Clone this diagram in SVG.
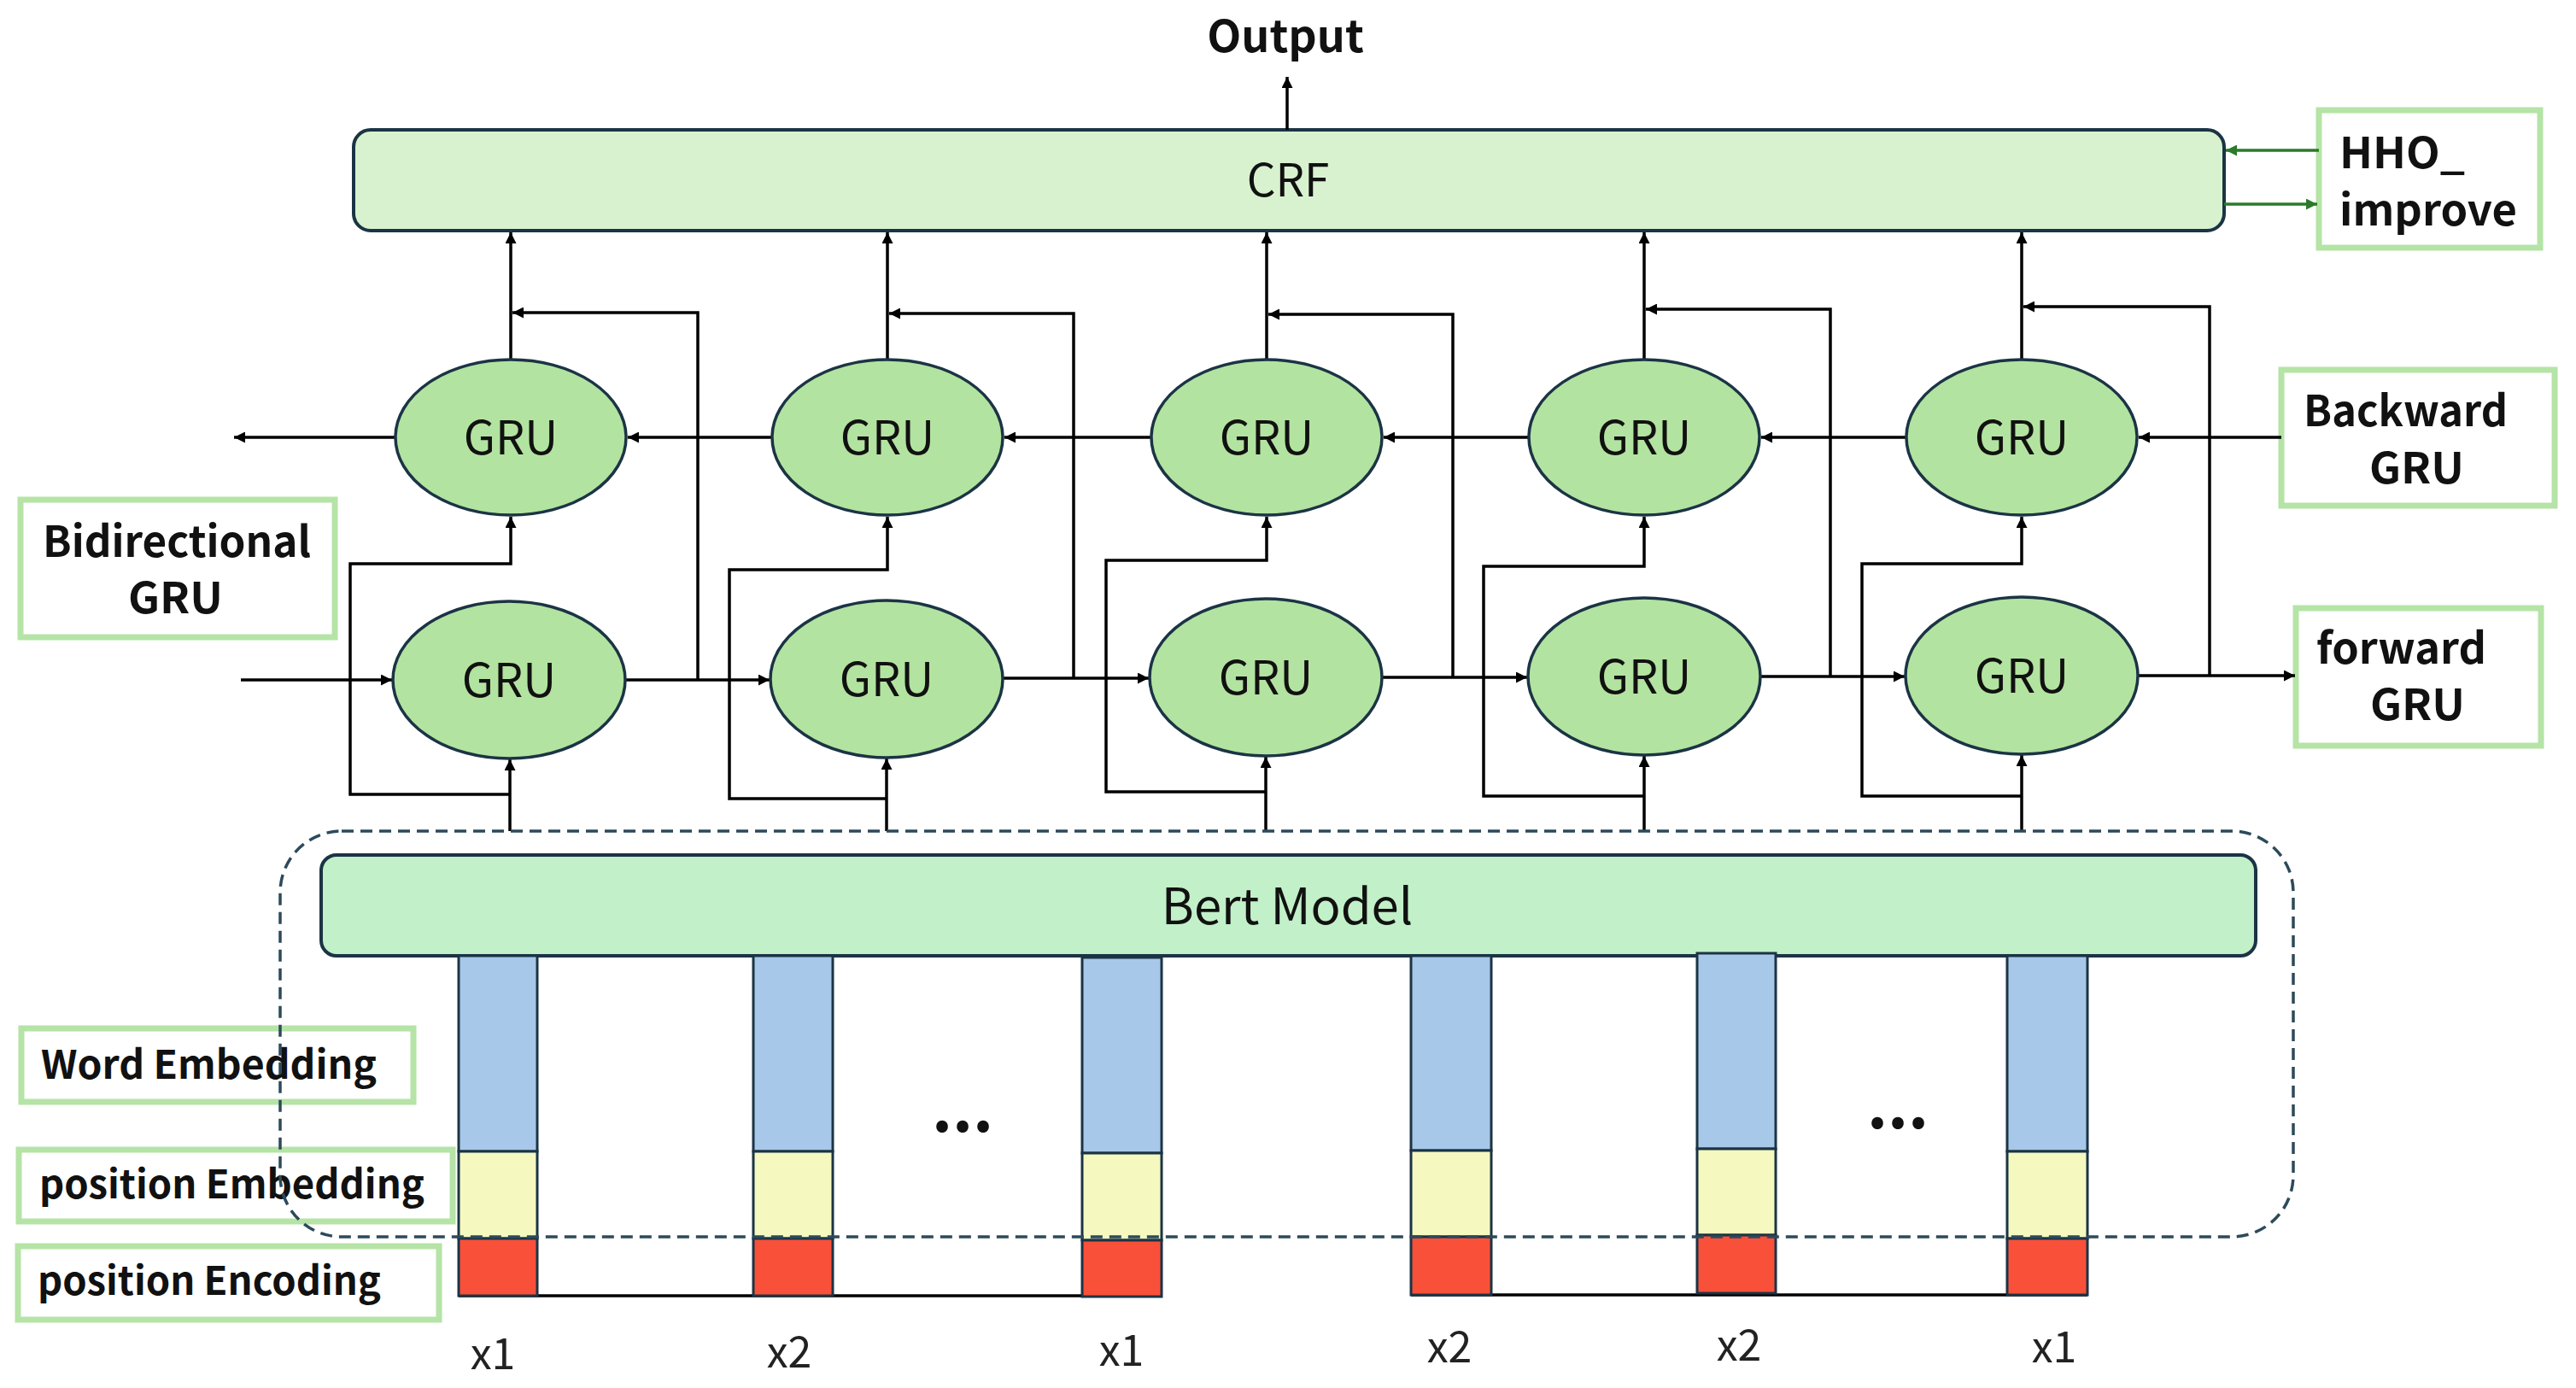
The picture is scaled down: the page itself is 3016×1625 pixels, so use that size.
<svg xmlns="http://www.w3.org/2000/svg" width="3016" height="1625" viewBox="0 0 3016 1625">
<style>
text{font-family:"Noto Sans CJK SC","Noto Sans","Liberation Sans",sans-serif;fill:#111}
.lbl{fill:#fff;stroke:#b5e4a6;stroke-width:7}
.lt{font-size:50px;font-weight:bold}
.le{font-size:46px;font-weight:bold}
.gru{fill:#b3e3a0;stroke:#1b3445;stroke-width:3.5}
.gt{font-size:54px;text-anchor:middle}
.c{fill:none;stroke:#000;stroke-width:3.5}
.g{fill:none;stroke:#2a7a2a;stroke-width:3.5}
.bl{fill:#a8c8ea;stroke:#1b3445;stroke-width:3}
.ye{fill:#f5f9c0;stroke:#1b3445;stroke-width:3}
.re{fill:#f9503a;stroke:#1b3445;stroke-width:3}
.xt{font-size:50px;text-anchor:middle;fill:#222}
.dt{font-size:74px;font-weight:bold;text-anchor:middle}
</style>
<defs>
<marker id="ah" viewBox="0 0 10 10" refX="10" refY="5" markerWidth="18" markerHeight="13" markerUnits="userSpaceOnUse" orient="auto"><path d="M0,0 L10,5 L0,10 z" fill="#000"/></marker>
<marker id="ahg" viewBox="0 0 10 10" refX="10" refY="5" markerWidth="18" markerHeight="13" markerUnits="userSpaceOnUse" orient="auto"><path d="M0,0 L10,5 L0,10 z" fill="#2a7a2a"/></marker>
</defs>
<rect width="3016" height="1625" fill="#fff"/>

<g id="output"><text x="1505" y="61" font-size="52" font-weight="bold" text-anchor="middle">Output</text></g>

<g id="crf"><rect x="414" y="152" width="2190" height="118" rx="20" fill="#d8f2d0" stroke="#1b3445" stroke-width="4"/><text x="1508" y="230" font-size="53" text-anchor="middle">CRF</text></g>

<g id="hho"><rect class="lbl" x="2715" y="129" width="259" height="161"/><text class="lt" x="2739" y="197" textLength="147" lengthAdjust="spacingAndGlyphs">HHO_</text><text class="lt" x="2739" y="264" textLength="208" lengthAdjust="spacingAndGlyphs">improve</text></g>
<g id="backward-label"><rect class="lbl" x="2671" y="433" width="320" height="159"/><text class="lt" x="2697" y="499" textLength="239" lengthAdjust="spacingAndGlyphs">Backward</text><text class="lt" x="2774" y="566" textLength="111" lengthAdjust="spacingAndGlyphs">GRU</text></g>
<g id="forward-label"><rect class="lbl" x="2688" y="712" width="287" height="161"/><text class="lt" x="2712" y="777" textLength="199" lengthAdjust="spacingAndGlyphs">forward</text><text class="lt" x="2775" y="843" textLength="111" lengthAdjust="spacingAndGlyphs">GRU</text></g>
<g id="bidir-label"><rect class="lbl" x="24" y="585" width="368" height="161"/><text class="lt" x="50" y="652" textLength="314" lengthAdjust="spacingAndGlyphs">Bidirectional</text><text class="lt" x="150" y="718" textLength="111" lengthAdjust="spacingAndGlyphs">GRU</text></g>
<g id="word-emb-label"><rect class="lbl" x="25" y="1204" width="459" height="86"/><text class="le" x="48" y="1263" textLength="393" lengthAdjust="spacingAndGlyphs">Word Embedding</text></g>
<g id="pos-emb-label"><rect class="lbl" x="22" y="1346" width="508" height="84"/><text class="le" x="46" y="1403" textLength="451" lengthAdjust="spacingAndGlyphs">position Embedding</text></g>
<g id="pos-enc-label"><rect class="lbl" x="21" y="1459" width="493" height="86"/><text class="le" x="44" y="1516" textLength="402" lengthAdjust="spacingAndGlyphs">position Encoding</text></g>

<g id="connectors">
<path class="c" d="M1507,152 V90" marker-end="url(#ah)"/>
<path class="g" d="M2715,176 H2606" marker-end="url(#ahg)"/>
<path class="g" d="M2604,239 H2713" marker-end="url(#ahg)"/>
<!-- column 1 -->
<path class="c" d="M598,421 V272" marker-end="url(#ah)"/>
<path class="c" d="M817,796 V366 H600" marker-end="url(#ah)"/>
<path class="c" d="M597,973 V889" marker-end="url(#ah)"/>
<path class="c" d="M597,930 H410 V660 H598 V605" marker-end="url(#ah)"/>
<!-- column 2 -->
<path class="c" d="M1039,421 V272" marker-end="url(#ah)"/>
<path class="c" d="M1257,795 V367 H1041" marker-end="url(#ah)"/>
<path class="c" d="M1038,973 V888" marker-end="url(#ah)"/>
<path class="c" d="M1038,935 H854 V667 H1039 V605" marker-end="url(#ah)"/>
<!-- column 3 -->
<path class="c" d="M1483,421 V272" marker-end="url(#ah)"/>
<path class="c" d="M1701,793 V368 H1485" marker-end="url(#ah)"/>
<path class="c" d="M1482,973 V886" marker-end="url(#ah)"/>
<path class="c" d="M1482,927 H1295 V656 H1483 V605" marker-end="url(#ah)"/>
<!-- column 4 -->
<path class="c" d="M1925,421 V272" marker-end="url(#ah)"/>
<path class="c" d="M2143,792 V362 H1927" marker-end="url(#ah)"/>
<path class="c" d="M1925,973 V885" marker-end="url(#ah)"/>
<path class="c" d="M1925,932 H1737 V663 H1925 V605" marker-end="url(#ah)"/>
<!-- column 5 -->
<path class="c" d="M2367,421 V272" marker-end="url(#ah)"/>
<path class="c" d="M2587,791 V359 H2369" marker-end="url(#ah)"/>
<path class="c" d="M2367,973 V884" marker-end="url(#ah)"/>
<path class="c" d="M2367,932 H2180 V660 H2367 V605" marker-end="url(#ah)"/>
<!-- backward chain -->
<path class="c" d="M2671,512 H2504" marker-end="url(#ah)"/>
<path class="c" d="M2232,512 H2062" marker-end="url(#ah)"/>
<path class="c" d="M1790,512 H1620" marker-end="url(#ah)"/>
<path class="c" d="M1348,512 H1176" marker-end="url(#ah)"/>
<path class="c" d="M904,512 H735" marker-end="url(#ah)"/>
<path class="c" d="M463,512 H274" marker-end="url(#ah)"/>
<!-- forward chain -->
<path class="c" d="M282,796 H459" marker-end="url(#ah)"/>
<path class="c" d="M732,796 H901" marker-end="url(#ah)"/>
<path class="c" d="M1174,794 H1345" marker-end="url(#ah)"/>
<path class="c" d="M1618,793 H1788" marker-end="url(#ah)"/>
<path class="c" d="M2061,792 H2230" marker-end="url(#ah)"/>
<path class="c" d="M2503,791 H2687" marker-end="url(#ah)"/>
<!-- token baselines -->
<path class="c" d="M537,1517 H1360"/>
<path class="c" d="M1652,1516 H2444"/>
</g>

<g id="gru-b1"><ellipse class="gru" cx="598" cy="512" rx="135" ry="91"/><text class="gt" x="598" y="532">GRU</text></g>
<g id="gru-b2"><ellipse class="gru" cx="1039" cy="512" rx="135" ry="91"/><text class="gt" x="1039" y="532">GRU</text></g>
<g id="gru-b3"><ellipse class="gru" cx="1483" cy="512" rx="135" ry="91"/><text class="gt" x="1483" y="532">GRU</text></g>
<g id="gru-b4"><ellipse class="gru" cx="1925" cy="512" rx="135" ry="91"/><text class="gt" x="1925" y="532">GRU</text></g>
<g id="gru-b5"><ellipse class="gru" cx="2367" cy="512" rx="135" ry="91"/><text class="gt" x="2367" y="532">GRU</text></g>
<g id="gru-f1"><ellipse class="gru" cx="596" cy="796" rx="136" ry="92"/><text class="gt" x="596" y="816">GRU</text></g>
<g id="gru-f2"><ellipse class="gru" cx="1038" cy="795" rx="136" ry="92"/><text class="gt" x="1038" y="815">GRU</text></g>
<g id="gru-f3"><ellipse class="gru" cx="1482" cy="793" rx="136" ry="92"/><text class="gt" x="1482" y="813">GRU</text></g>
<g id="gru-f4"><ellipse class="gru" cx="1925" cy="792" rx="136" ry="92"/><text class="gt" x="1925" y="812">GRU</text></g>
<g id="gru-f5"><ellipse class="gru" cx="2367" cy="791" rx="136" ry="92"/><text class="gt" x="2367" y="811">GRU</text></g>

<g id="bert"><rect x="376" y="1001" width="2265" height="118" rx="18" fill="#c2f0c8" stroke="#1b3445" stroke-width="4"/><text x="1507" y="1082" font-size="58" text-anchor="middle">Bert Model</text></g>

<g id="tok1"><rect class="bl" x="537" y="1119" width="92" height="229"/><rect class="ye" x="537" y="1348" width="92" height="102"/><rect class="re" x="537" y="1450" width="92" height="67"/><text class="xt" x="577" y="1603">x1</text></g>
<g id="tok2"><rect class="bl" x="882" y="1119" width="93" height="229"/><rect class="ye" x="882" y="1348" width="93" height="102"/><rect class="re" x="882" y="1450" width="93" height="67"/><text class="xt" x="924" y="1601">x2</text></g>
<g id="tok3"><rect class="bl" x="1267" y="1121" width="93" height="229"/><rect class="ye" x="1267" y="1350" width="93" height="102"/><rect class="re" x="1267" y="1452" width="93" height="66"/><text class="xt" x="1313" y="1599">x1</text></g>
<g id="tok4"><rect class="bl" x="1652" y="1119" width="94" height="228"/><rect class="ye" x="1652" y="1347" width="94" height="101"/><rect class="re" x="1652" y="1448" width="94" height="68"/><text class="xt" x="1697" y="1595">x2</text></g>
<g id="tok5"><rect class="bl" x="1987" y="1116" width="92" height="229"/><rect class="ye" x="1987" y="1345" width="92" height="101"/><rect class="re" x="1987" y="1446" width="92" height="68"/><text class="xt" x="2036" y="1593">x2</text></g>
<g id="tok6"><rect class="bl" x="2350" y="1119" width="94" height="229"/><rect class="ye" x="2350" y="1348" width="94" height="102"/><rect class="re" x="2350" y="1450" width="94" height="66"/><text class="xt" x="2405" y="1595">x1</text></g>
<g id="dots1"><text class="dt" x="1127" y="1325">...</text></g>
<g id="dots2"><text class="dt" x="2222" y="1321">...</text></g>

<g id="bert-group"><rect x="328" y="973" width="2357" height="475" rx="72" fill="none" stroke="#2c4a5a" stroke-width="3.5" stroke-dasharray="14 8"/></g>
</svg>
